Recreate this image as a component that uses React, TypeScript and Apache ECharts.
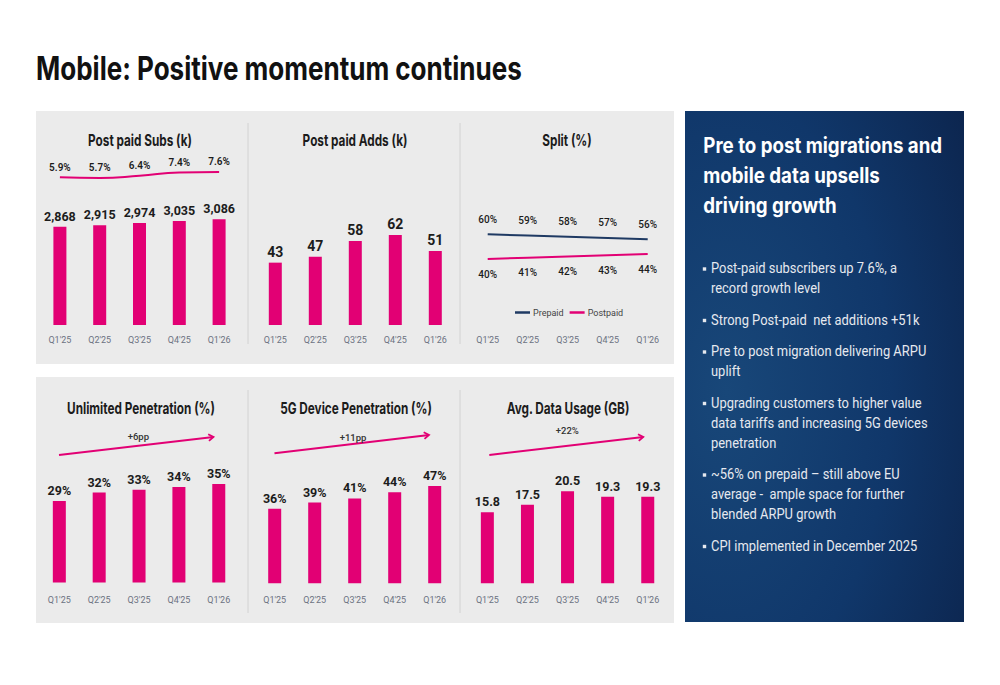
import React, { useEffect, useRef } from "react";
import * as echarts from "echarts";

const quarters = ["Q1'25", "Q2'25", "Q3'25", "Q4'25", "Q1'26"];
const postpaidSubs = [2868, 2915, 2974, 3035, 3086];
const postpaidSubsGrowth = [5.9, 5.7, 6.4, 7.4, 7.6];
const postpaidAdds = [43, 47, 58, 62, 51];
const prepaidShare = [60, 59, 58, 57, 56];
const postpaidShare = [40, 41, 42, 43, 44];
const unlimitedPen = [29, 32, 33, 34, 35];
const fiveGPen = [36, 39, 41, 44, 47];
const dataUsage = [15.8, 17.5, 20.5, 19.3, 19.3];

const pageTitle = "Mobile: Positive momentum continues";
const panelTitles = [
  "Post paid Subs (k)",
  "Post paid Adds (k)",
  "Split (%)",
  "Unlimited Penetration (%)",
  "5G Device Penetration (%)",
  "Avg. Data Usage (GB)",
];
const trendLabels = ["+6pp", "+11pp", "+22%"];
const legendNames = ["Prepaid", "Postpaid"];
const headingLines = ["Pre to post migrations and", "mobile data upsells", "driving growth"];
const bullets = [
  ["Post-paid subscribers up 7.6%, a", "record growth level"],
  ["Strong Post-paid  net additions +51k"],
  ["Pre to post migration delivering ARPU", "uplift"],
  ["Upgrading customers to higher value", "data tariffs and increasing 5G devices", "penetration"],
  ["~56% on prepaid \u2013 still above EU", "average -  ample space for further", "blended ARPU growth"],
  ["CPI implemented in December 2025"],
];

const MAGENTA = "#E20074";
const NAVY = "#1f3a63";
const DARK = "#1c1c1c";
const AXIS_GRAY = "#6b7282";

export default function App() {
  const ref = useRef<HTMLDivElement>(null);
  useEffect(() => {
    const el = ref.current!;
    const chart = echarts.init(el, null, { renderer: "svg" });
    const ctx = document.createElement("canvas").getContext("2d")!;
    const fit = (text: string, font: string, target: number) => {
      ctx.font = font;
      const w = ctx.measureText(text).width;
      return w > 0 ? target / w : 1;
    };

    const titleFont = "bold 32px Inter";
    const titleScale = fit(pageTitle, titleFont, 486);
    const ptFont = "bold 16px Inter";
    const ptScale = fit("Unlimited Penetration (%)", ptFont, 148);
    const headFont = "bold 21px Inter";
    const headScale = fit(headingLines[0], headFont, 239);
    const bulletFont = "14px Roboto";
    const bulletScale = fit(bullets[0][0], bulletFont, 186);

    const graphics: any[] = [];
    graphics.push({ type: "rect", z: -5, shape: { x: 36, y: 111, width: 638, height: 253 }, style: { fill: "#ebebeb" } });
    graphics.push({ type: "rect", z: -5, shape: { x: 36, y: 377, width: 638, height: 246 }, style: { fill: "#ebebeb" } });
    graphics.push({
      type: "rect",
      z: -5,
      shape: { x: 685, y: 111, width: 279, height: 511 },
      style: {
        fill: {
          type: "radial",
          x: 0.15,
          y: 0.55,
          r: 1.3,
          colorStops: [
            { offset: 0, color: "#184779" },
            { offset: 0.45, color: "#10376a" },
            { offset: 1, color: "#0a1a3d" },
          ],
        },
      },
    });
    [248, 460].forEach((x) => {
      graphics.push({ type: "line", z: -4, shape: { x1: x, y1: 123, x2: x, y2: 344 }, style: { stroke: "#d2d2d2", lineWidth: 1 } });
      graphics.push({ type: "line", z: -4, shape: { x1: x, y1: 390, x2: x, y2: 613 }, style: { stroke: "#d2d2d2", lineWidth: 1 } });
    });
    graphics.push({
      type: "text",
      x: 36,
      y: 68.5,
      scaleX: titleScale,
      style: { text: pageTitle, font: titleFont, fill: "#111", textAlign: "left", textVerticalAlign: "middle" },
    });
    const ptPos = [
      [140, 140],
      [355, 140],
      [567, 140],
      [141, 407.5],
      [356, 407.5],
      [568, 407.5],
    ];
    panelTitles.forEach((t, i) => {
      graphics.push({
        type: "text",
        x: ptPos[i][0],
        y: ptPos[i][1],
        scaleX: ptScale,
        style: { text: t, font: ptFont, fill: DARK, textAlign: "center", textVerticalAlign: "middle" },
      });
    });
    const arrows = [
      { x1: 59, y1: 455, x2: 213.5, y2: 437, tx: 138.3, ty: 436.7 },
      { x1: 274.5, y1: 453.3, x2: 429, y2: 435, tx: 353, ty: 437 },
      { x1: 489.3, y1: 455, x2: 643.3, y2: 437, tx: 567.3, ty: 430 },
    ];
    arrows.forEach((a, i) => {
      graphics.push({ type: "line", shape: { x1: a.x1, y1: a.y1, x2: a.x2, y2: a.y2 }, style: { stroke: MAGENTA, lineWidth: 2 } });
      const ang = Math.atan2(a.y2 - a.y1, a.x2 - a.x1);
      const L = 6;
      const p1 = [a.x2 - L * Math.cos(ang - 0.6), a.y2 - L * Math.sin(ang - 0.6)];
      const p2 = [a.x2 - L * Math.cos(ang + 0.6), a.y2 - L * Math.sin(ang + 0.6)];
      graphics.push({ type: "polyline", shape: { points: [p1, [a.x2, a.y2], p2] }, style: { stroke: MAGENTA, lineWidth: 1.8, fill: null } });
      graphics.push({
        type: "text",
        x: a.tx,
        y: a.ty,
        style: { text: trendLabels[i], font: "500 9.5px Roboto", fill: "#333", textAlign: "center", textVerticalAlign: "middle" },
      });
    });
    headingLines.forEach((t, i) => {
      graphics.push({
        type: "text",
        x: 703.3,
        y: 146 + i * 30,
        scaleX: headScale,
        style: { text: t, font: headFont, fill: "#ffffff", textAlign: "left", textVerticalAlign: "middle" },
      });
    });
    let by = 268.5;
    bullets.forEach((lines) => {
      graphics.push({ type: "rect", shape: { x: 702.8, y: by - 1.2, width: 3.4, height: 3.4 }, style: { fill: "#e6e9ef" } });
      lines.forEach((t, j) => {
        graphics.push({
          type: "text",
          x: 711,
          y: by + j * 20,
          scaleX: bulletScale,
          style: { text: t, font: bulletFont, fill: "#e6e9ef", textAlign: "left", textVerticalAlign: "middle" },
        });
      });
      by += (lines.length - 1) * 20 + 31.5;
    });

    const grids = [
      { left: 40, top: 205.1, width: 199, height: 119.9 },
      { left: 40, top: 167.4, width: 199, height: 16 },
      { left: 255.3, top: 209, width: 200, height: 116 },
      { left: 467.7, top: 222, width: 200, height: 49.3 },
      { left: 39.4, top: 456, width: 199.3, height: 126.5 },
      { left: 254.7, top: 459.1, width: 200, height: 124.2 },
      { left: 467.3, top: 457.6, width: 200.5, height: 125.7 },
    ];
    const labelMargins = [10.5, 0, 10.5, 64.2, 12.5, 12.5, 12.5];
    const yRanges = [
      [0, 3500],
      [4, 9],
      [0, 80],
      [30, 70],
      [0, 45],
      [0, 60],
      [0, 28],
    ];

    const xAxes = grids.map((_, i) => ({
      type: "category",
      gridIndex: i,
      data: quarters,
      boundaryGap: true,
      axisLine: { show: false },
      axisTick: { show: false },
      splitLine: { show: false },
      axisLabel: {
        show: i !== 1,
        margin: labelMargins[i],
        fontSize: 9,
        color: AXIS_GRAY,
        fontFamily: "Roboto",
      },
    }));
    const yAxes = grids.map((_, i) => ({
      type: "value",
      gridIndex: i,
      min: yRanges[i][0],
      max: yRanges[i][1],
      show: false,
      splitLine: { show: false },
    }));

    const barSeries = (idx: number, data: number[], fontSize: number, fmt: (v: number) => string) => ({
      type: "bar",
      xAxisIndex: idx,
      yAxisIndex: idx,
      data,
      barWidth: 13,
      itemStyle: { color: MAGENTA },
      label: {
        show: true,
        position: "top",
        distance: 4,
        fontSize,
        fontWeight: "bold",
        fontFamily: "Roboto",
        color: DARK,
        formatter: (p: any) => fmt(p.value),
      },
    });

    const option: any = {
      animation: false,
      backgroundColor: "#ffffff",
      textStyle: { fontFamily: "Roboto" },
      grid: grids.map((g) => ({ ...g, containLabel: false, outerBoundsMode: "none" })),
      xAxis: xAxes,
      yAxis: yAxes,
      legend: {
        data: legendNames,
        left: 510,
        top: 303,
        icon: "rect",
        itemWidth: 15,
        itemHeight: 2.5,
        itemGap: 6,
        textStyle: { fontSize: 9, color: "#444", fontFamily: "Roboto", padding: [0, 0, 0, -2] },
      },
      series: [
        barSeries(0, postpaidSubs, 12.5, (v) => v.toLocaleString("en-US")),
        {
          type: "line",
          xAxisIndex: 1,
          yAxisIndex: 1,
          data: postpaidSubsGrowth,
          smooth: true,
          symbol: "circle",
          symbolSize: 0.1,
          lineStyle: { color: MAGENTA, width: 2 },
          itemStyle: { color: MAGENTA },
          label: {
            show: true,
            position: "top",
            distance: 5,
            fontSize: 10,
            fontWeight: 600,
            color: DARK,
            formatter: (p: any) => p.value + "%",
          },
        },
        barSeries(2, postpaidAdds, 14, (v) => String(v)),
        {
          name: "Prepaid",
          type: "line",
          xAxisIndex: 3,
          yAxisIndex: 3,
          data: prepaidShare,
          symbol: "circle",
          symbolSize: 0.1,
          lineStyle: { color: NAVY, width: 2 },
          itemStyle: { color: NAVY },
          label: {
            show: true,
            position: "top",
            distance: 10,
            fontSize: 10,
            fontWeight: 500,
            color: DARK,
            formatter: (p: any) => p.value + "%",
          },
        },
        {
          name: "Postpaid",
          type: "line",
          xAxisIndex: 3,
          yAxisIndex: 3,
          data: postpaidShare,
          symbol: "circle",
          symbolSize: 0.1,
          lineStyle: { color: MAGENTA, width: 2 },
          itemStyle: { color: MAGENTA },
          label: {
            show: true,
            position: "bottom",
            distance: 10,
            fontSize: 10,
            fontWeight: 500,
            color: DARK,
            formatter: (p: any) => p.value + "%",
          },
        },
        barSeries(4, unlimitedPen, 12.5, (v) => v + "%"),
        barSeries(5, fiveGPen, 12.5, (v) => v + "%"),
        barSeries(6, dataUsage, 12.5, (v) => v.toFixed(1)),
      ],
      graphic: { elements: graphics },
    };
    chart.setOption(option);
    return () => chart.dispose();
  }, []);
  return <div ref={ref} style={{ position: "absolute", left: 0, top: 0, width: 1000, height: 685 }} />;
}
